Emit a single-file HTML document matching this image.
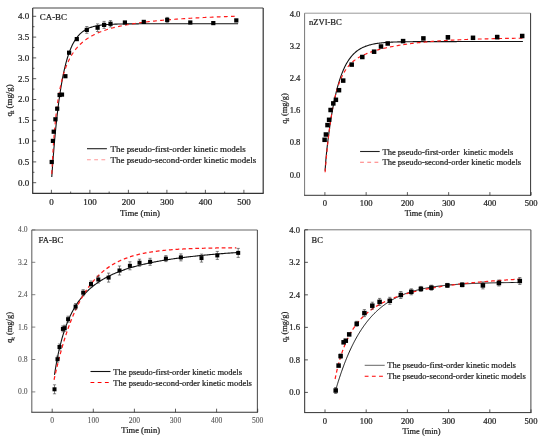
<!DOCTYPE html>
<html><head><meta charset="utf-8"><title>Adsorption kinetics</title>
<style>
html,body{margin:0;padding:0;background:#fff;}
svg{display:block;}
text{font-family:"Liberation Serif", "Times New Roman", serif;}
</style></head>
<body>
<svg width="550" height="442" viewBox="0 0 550 442">
<rect width="550" height="442" fill="#fff"/>
<g>
<polyline points="51.78,176.93 51.81,176.55 51.86,175.79 51.93,174.77 52.02,173.52 52.12,172.08 52.23,170.47 52.36,168.72 52.5,166.83 52.64,164.82 52.8,162.7 52.97,160.48 53.14,158.19 53.33,155.81 53.52,153.37 53.73,150.86 53.94,148.31 54.16,145.71 54.38,143.08 54.62,140.42 54.86,137.73 55.11,135.03 55.37,132.32 55.63,129.6 55.9,126.88 56.18,124.16 56.47,121.45 56.76,118.75 57.05,116.07 57.36,113.41 57.67,110.78 57.99,108.17 58.31,105.59 58.64,103.04 58.97,100.53 59.32,98.05 59.66,95.61 60.02,93.22 60.38,90.86 60.74,88.55 61.11,86.29 61.49,84.07 61.87,81.9 62.25,79.78 62.65,77.71 63.04,75.69 63.45,73.72 63.85,71.8 64.27,69.93 64.69,68.11 65.11,66.34 65.54,64.62 65.97,62.95 66.41,61.33 66.86,59.76 67.31,58.24 67.76,56.77 68.22,55.35 68.68,53.97 69.15,52.65 69.62,51.36 70.1,50.12 70.59,48.93 71.07,47.78 71.57,46.67 72.06,45.6 72.56,44.58 73.07,43.59 73.58,42.64 74.1,41.73 74.61,40.86 75.14,40.02 75.67,39.22 76.2,38.45 76.74,37.71 77.28,37 77.83,36.33 78.38,35.68 78.93,35.06 79.49,34.47 80.05,33.91 80.62,33.37 81.19,32.86 81.77,32.37 82.35,31.91 82.93,31.46 83.52,31.04 84.11,30.64 84.71,30.26 85.31,29.9 85.92,29.55 86.52,29.22 87.14,28.91 87.75,28.62 88.37,28.34 89,28.07 89.63,27.82 90.26,27.58 90.9,27.36 91.54,27.14 92.18,26.94 92.83,26.75 93.48,26.57 94.14,26.4 94.8,26.24 95.46,26.09 96.13,25.95 96.8,25.81 97.48,25.69 98.15,25.57 98.84,25.45 99.52,25.35 100.21,25.25 100.91,25.15 101.6,25.06 102.31,24.98 103.01,24.9 103.72,24.83 104.43,24.76 105.15,24.7 105.87,24.64 106.59,24.58 107.31,24.52 108.04,24.48 108.78,24.43 109.52,24.38 110.26,24.34 111,24.31 111.75,24.27 112.5,24.24 113.25,24.2 114.01,24.18 114.77,24.15 115.54,24.12 116.31,24.1 117.08,24.08 117.86,24.06 118.64,24.04 119.42,24.02 120.2,24 120.99,23.99 121.79,23.97 122.58,23.96 123.38,23.95 124.18,23.93 124.99,23.92 125.8,23.91 126.61,23.9 127.43,23.89 128.25,23.89 129.07,23.88 129.9,23.87 130.73,23.87 131.56,23.86 132.39,23.85 133.23,23.85 134.08,23.84 134.92,23.84 135.77,23.84 136.62,23.83 137.48,23.83 138.34,23.83 139.2,23.82 140.06,23.82 140.93,23.82 141.8,23.81 142.68,23.81 143.55,23.81 144.43,23.81 145.32,23.81 146.21,23.81 147.1,23.8 147.99,23.8 148.89,23.8 149.79,23.8 150.69,23.8 151.59,23.8 152.5,23.8 153.41,23.8 154.33,23.8 155.25,23.8 156.17,23.79 157.09,23.79 158.02,23.79 158.95,23.79 159.88,23.79 160.82,23.79 161.76,23.79 162.7,23.79 163.65,23.79 164.6,23.79 165.55,23.79 166.5,23.79 167.46,23.79 168.42,23.79 169.38,23.79 170.35,23.79 171.32,23.79 172.29,23.79 173.27,23.79 174.25,23.79 175.23,23.79 176.21,23.79 177.2,23.79 178.19,23.79 179.18,23.79 180.18,23.79 181.18,23.79 182.18,23.79 183.18,23.79 184.19,23.79 185.2,23.79 186.21,23.79 187.23,23.79 188.25,23.79 189.27,23.79 190.29,23.79 191.32,23.79 192.35,23.79 193.38,23.79 194.42,23.79 195.46,23.79 196.5,23.79 197.54,23.79 198.59,23.79 199.64,23.79 200.69,23.79 201.75,23.79 202.81,23.79 203.87,23.79 204.93,23.79 206,23.79 207.07,23.79 208.14,23.79 209.22,23.79 210.3,23.79 211.38,23.79 212.46,23.79 213.55,23.79 214.63,23.79 215.73,23.79 216.82,23.79 217.92,23.79 219.02,23.79 220.12,23.79 221.22,23.79 222.33,23.79 223.44,23.79 224.56,23.79 225.67,23.79 226.79,23.79 227.91,23.79 229.04,23.79 230.16,23.79 231.29,23.79 232.42,23.79 233.56,23.79 234.7,23.79 235.84,23.79 236.98,23.79 238.12,23.79" fill="none" stroke="#111" stroke-width="1.1" stroke-linejoin="round"/>
<polyline points="51.78,173.92 51.81,173.38 51.86,172.27 51.93,170.79 52.02,169.02 52.12,167 52.23,164.79 52.36,162.41 52.49,159.9 52.64,157.29 52.8,154.59 52.96,151.84 53.14,149.04 53.33,146.21 53.52,143.37 53.72,140.53 53.93,137.7 54.15,134.89 54.38,132.1 54.61,129.35 54.85,126.63 55.1,123.96 55.36,121.34 55.62,118.76 55.89,116.24 56.17,113.78 56.46,111.36 56.75,109.01 57.04,106.71 57.35,104.47 57.66,102.29 57.97,100.17 58.3,98.1 58.63,96.08 58.96,94.13 59.3,92.22 59.65,90.37 60,88.58 60.36,86.83 60.72,85.13 61.09,83.48 61.47,81.88 61.85,80.33 62.23,78.81 62.62,77.35 63.02,75.92 63.42,74.54 63.83,73.19 64.24,71.89 64.66,70.62 65.08,69.38 65.51,68.19 65.94,67.02 66.38,65.89 66.83,64.79 67.27,63.72 67.73,62.68 68.19,61.67 68.65,60.69 69.12,59.73 69.59,58.8 70.07,57.9 70.55,57.01 71.03,56.16 71.52,55.32 72.02,54.51 72.52,53.72 73.03,52.95 73.54,52.2 74.05,51.47 74.57,50.75 75.09,50.06 75.62,49.38 76.15,48.72 76.69,48.08 77.23,47.45 77.77,46.84 78.32,46.24 78.87,45.66 79.43,45.09 79.99,44.53 80.56,43.99 81.13,43.46 81.71,42.95 82.28,42.44 82.87,41.95 83.45,41.47 84.05,41 84.64,40.54 85.24,40.09 85.84,39.65 86.45,39.22 87.06,38.79 87.68,38.38 88.3,37.98 88.92,37.59 89.55,37.2 90.18,36.82 90.82,36.45 91.46,36.09 92.1,35.74 92.75,35.39 93.4,35.05 94.05,34.72 94.71,34.39 95.37,34.08 96.04,33.76 96.71,33.46 97.38,33.16 98.06,32.86 98.74,32.57 99.42,32.29 100.11,32.01 100.81,31.74 101.5,31.47 102.2,31.21 102.9,30.95 103.61,30.7 104.32,30.45 105.04,30.21 105.75,29.97 106.47,29.73 107.2,29.5 107.93,29.28 108.66,29.06 109.4,28.84 110.14,28.62 110.88,28.41 111.62,28.21 112.37,28 113.13,27.8 113.88,27.61 114.64,27.41 115.41,27.22 116.17,27.04 116.95,26.86 117.72,26.67 118.5,26.5 119.28,26.32 120.06,26.15 120.85,25.98 121.64,25.82 122.43,25.65 123.23,25.49 124.03,25.33 124.84,25.18 125.65,25.03 126.46,24.87 127.27,24.73 128.09,24.58 128.91,24.44 129.73,24.29 130.56,24.15 131.39,24.02 132.23,23.88 133.06,23.75 133.91,23.62 134.75,23.49 135.6,23.36 136.45,23.23 137.3,23.11 138.16,22.99 139.02,22.87 139.88,22.75 140.75,22.63 141.62,22.52 142.49,22.4 143.36,22.29 144.24,22.18 145.13,22.07 146.01,21.97 146.9,21.86 147.79,21.76 148.69,21.65 149.58,21.55 150.48,21.45 151.39,21.35 152.29,21.25 153.2,21.16 154.12,21.06 155.03,20.97 155.95,20.88 156.88,20.79 157.8,20.7 158.73,20.61 159.66,20.52 160.6,20.43 161.53,20.35 162.47,20.26 163.42,20.18 164.36,20.1 165.31,20.02 166.27,19.93 167.22,19.86 168.18,19.78 169.14,19.7 170.11,19.62 171.07,19.55 172.04,19.47 173.02,19.4 173.99,19.33 174.97,19.26 175.95,19.18 176.94,19.11 177.93,19.04 178.92,18.98 179.91,18.91 180.91,18.84 181.91,18.78 182.91,18.71 183.91,18.65 184.92,18.58 185.93,18.52 186.95,18.46 187.96,18.39 188.98,18.33 190.01,18.27 191.03,18.21 192.06,18.15 193.09,18.1 194.12,18.04 195.16,17.98 196.2,17.92 197.24,17.87 198.29,17.81 199.34,17.76 200.39,17.7 201.44,17.65 202.5,17.6 203.56,17.55 204.62,17.49 205.68,17.44 206.75,17.39 207.82,17.34 208.89,17.29 209.97,17.24 211.05,17.2 212.13,17.15 213.21,17.1 214.3,17.05 215.39,17.01 216.48,16.96 217.57,16.91 218.67,16.87 219.77,16.82 220.87,16.78 221.98,16.74 223.09,16.69 224.2,16.65 225.31,16.61 226.43,16.56 227.55,16.52 228.67,16.48 229.79,16.44 230.92,16.4 232.05,16.36 233.18,16.32 234.32,16.28 235.46,16.24 236.6,16.2 237.74,16.17" fill="none" stroke="#ff1a1a" stroke-width="1.15" stroke-dasharray="3.8,3.3" stroke-linejoin="round"/>
<rect x="49.6" y="159.9" width="4.2" height="4.2" fill="#000"/>
<rect x="50.8" y="138.8" width="4.2" height="4.2" fill="#000"/>
<rect x="51.6" y="129.6" width="4.2" height="4.2" fill="#000"/>
<rect x="53.3" y="117.2" width="4.2" height="4.2" fill="#000"/>
<rect x="55.1" y="106.6" width="4.2" height="4.2" fill="#000"/>
<rect x="57.5" y="92.9" width="4.2" height="4.2" fill="#000"/>
<rect x="59.9" y="92.5" width="4.2" height="4.2" fill="#000"/>
<rect x="63.3" y="74.1" width="4.2" height="4.2" fill="#000"/>
<rect x="67" y="50.6" width="4.2" height="4.2" fill="#000"/>
<rect x="74.7" y="37" width="4.2" height="4.2" fill="#000"/>
<path d="M86.8,26.5V33.3M85.2,26.5H88.4M85.2,33.3H88.4" stroke="#333" stroke-width="0.6" fill="none"/>
<rect x="84.7" y="27.8" width="4.2" height="4.2" fill="#000"/>
<path d="M97.6,23.9V31.5M96,23.9H99.2M96,31.5H99.2" stroke="#333" stroke-width="0.6" fill="none"/>
<rect x="95.5" y="25.6" width="4.2" height="4.2" fill="#000"/>
<path d="M104.1,21.4V28.4M102.5,21.4H105.7M102.5,28.4H105.7" stroke="#333" stroke-width="0.6" fill="none"/>
<rect x="102" y="22.8" width="4.2" height="4.2" fill="#000"/>
<path d="M110.5,20.6V27M108.9,20.6H112.1M108.9,27H112.1" stroke="#333" stroke-width="0.6" fill="none"/>
<rect x="108.4" y="21.7" width="4.2" height="4.2" fill="#000"/>
<rect x="122.8" y="20.4" width="4.2" height="4.2" fill="#000"/>
<rect x="141.7" y="19.8" width="4.2" height="4.2" fill="#000"/>
<path d="M167.2,17.4V22.4M165.6,17.4H168.8M165.6,22.4H168.8" stroke="#333" stroke-width="0.6" fill="none"/>
<rect x="165.1" y="17.8" width="4.2" height="4.2" fill="#000"/>
<rect x="188.2" y="20.4" width="4.2" height="4.2" fill="#000"/>
<rect x="211.2" y="21" width="4.2" height="4.2" fill="#000"/>
<rect x="234.2" y="18.3" width="4.2" height="4.2" fill="#000"/>
<line x1="32.7" y1="8" x2="263.2" y2="8" stroke="#444" stroke-width="1.2"/>
<line x1="263.2" y1="8" x2="263.2" y2="193.3" stroke="#333" stroke-width="1.2"/>
<line x1="32.7" y1="8" x2="32.7" y2="193.3" stroke="#333" stroke-width="1.2"/>
<line x1="32.2" y1="193.3" x2="263.7" y2="193.3" stroke="#333" stroke-width="1.2"/>
<line x1="51.4" y1="193.3" x2="51.4" y2="189.8" stroke="#333" stroke-width="0.8"/>
<text x="51.4" y="204.5" font-size="9" text-anchor="middle" fill="#222" stroke="#222" stroke-width="0.22" >0</text>
<line x1="89.9" y1="193.3" x2="89.9" y2="189.8" stroke="#333" stroke-width="0.8"/>
<text x="89.9" y="204.5" font-size="9" text-anchor="middle" fill="#222" stroke="#222" stroke-width="0.22" >100</text>
<line x1="128.4" y1="193.3" x2="128.4" y2="189.8" stroke="#333" stroke-width="0.8"/>
<text x="128.4" y="204.5" font-size="9" text-anchor="middle" fill="#222" stroke="#222" stroke-width="0.22" >200</text>
<line x1="166.9" y1="193.3" x2="166.9" y2="189.8" stroke="#333" stroke-width="0.8"/>
<text x="166.9" y="204.5" font-size="9" text-anchor="middle" fill="#222" stroke="#222" stroke-width="0.22" >300</text>
<line x1="205.4" y1="193.3" x2="205.4" y2="189.8" stroke="#333" stroke-width="0.8"/>
<text x="205.4" y="204.5" font-size="9" text-anchor="middle" fill="#222" stroke="#222" stroke-width="0.22" >400</text>
<line x1="243.9" y1="193.3" x2="243.9" y2="189.8" stroke="#333" stroke-width="0.8"/>
<text x="243.9" y="204.5" font-size="9" text-anchor="middle" fill="#222" stroke="#222" stroke-width="0.22" >500</text>
<line x1="70.65" y1="193.3" x2="70.65" y2="191.55" stroke="#333" stroke-width="0.8"/>
<line x1="109.15" y1="193.3" x2="109.15" y2="191.55" stroke="#333" stroke-width="0.8"/>
<line x1="147.65" y1="193.3" x2="147.65" y2="191.55" stroke="#333" stroke-width="0.8"/>
<line x1="186.15" y1="193.3" x2="186.15" y2="191.55" stroke="#333" stroke-width="0.8"/>
<line x1="224.65" y1="193.3" x2="224.65" y2="191.55" stroke="#333" stroke-width="0.8"/>
<line x1="32.7" y1="182.7" x2="36.2" y2="182.7" stroke="#333" stroke-width="0.8"/>
<text x="29.2" y="185.67" font-size="9" text-anchor="end" fill="#222" stroke="#222" stroke-width="0.22" >0.0</text>
<line x1="32.7" y1="161.9" x2="36.2" y2="161.9" stroke="#333" stroke-width="0.8"/>
<text x="29.2" y="164.87" font-size="9" text-anchor="end" fill="#222" stroke="#222" stroke-width="0.22" >0.5</text>
<line x1="32.7" y1="141.1" x2="36.2" y2="141.1" stroke="#333" stroke-width="0.8"/>
<text x="29.2" y="144.07" font-size="9" text-anchor="end" fill="#222" stroke="#222" stroke-width="0.22" >1.0</text>
<line x1="32.7" y1="120.3" x2="36.2" y2="120.3" stroke="#333" stroke-width="0.8"/>
<text x="29.2" y="123.27" font-size="9" text-anchor="end" fill="#222" stroke="#222" stroke-width="0.22" >1.5</text>
<line x1="32.7" y1="99.5" x2="36.2" y2="99.5" stroke="#333" stroke-width="0.8"/>
<text x="29.2" y="102.47" font-size="9" text-anchor="end" fill="#222" stroke="#222" stroke-width="0.22" >2.0</text>
<line x1="32.7" y1="78.7" x2="36.2" y2="78.7" stroke="#333" stroke-width="0.8"/>
<text x="29.2" y="81.67" font-size="9" text-anchor="end" fill="#222" stroke="#222" stroke-width="0.22" >2.5</text>
<line x1="32.7" y1="57.9" x2="36.2" y2="57.9" stroke="#333" stroke-width="0.8"/>
<text x="29.2" y="60.87" font-size="9" text-anchor="end" fill="#222" stroke="#222" stroke-width="0.22" >3.0</text>
<line x1="32.7" y1="37.1" x2="36.2" y2="37.1" stroke="#333" stroke-width="0.8"/>
<text x="29.2" y="40.07" font-size="9" text-anchor="end" fill="#222" stroke="#222" stroke-width="0.22" >3.5</text>
<line x1="32.7" y1="16.3" x2="36.2" y2="16.3" stroke="#333" stroke-width="0.8"/>
<text x="29.2" y="19.27" font-size="9" text-anchor="end" fill="#222" stroke="#222" stroke-width="0.22" >4.0</text>
<line x1="32.7" y1="172.3" x2="34.45" y2="172.3" stroke="#333" stroke-width="0.8"/>
<line x1="32.7" y1="151.5" x2="34.45" y2="151.5" stroke="#333" stroke-width="0.8"/>
<line x1="32.7" y1="130.7" x2="34.45" y2="130.7" stroke="#333" stroke-width="0.8"/>
<line x1="32.7" y1="109.9" x2="34.45" y2="109.9" stroke="#333" stroke-width="0.8"/>
<line x1="32.7" y1="89.1" x2="34.45" y2="89.1" stroke="#333" stroke-width="0.8"/>
<line x1="32.7" y1="68.3" x2="34.45" y2="68.3" stroke="#333" stroke-width="0.8"/>
<line x1="32.7" y1="47.5" x2="34.45" y2="47.5" stroke="#333" stroke-width="0.8"/>
<line x1="32.7" y1="26.7" x2="34.45" y2="26.7" stroke="#333" stroke-width="0.8"/>
<text x="140" y="215.5" font-size="8.8" text-anchor="middle" fill="#222" stroke="#222" stroke-width="0.22" >Time (min)</text>
<text transform="translate(11.5,100.5) rotate(-90)" font-size="8.8" text-anchor="middle" fill="#222" stroke="#222" stroke-width="0.22">q<tspan font-size="5.72" dy="2.2">t</tspan><tspan dy="-2.2"> (mg/g)</tspan></text>
<text x="39.8" y="20.3" font-size="8.9" text-anchor="start" fill="#222" stroke="#222" stroke-width="0.22" >CA-BC</text>
<line x1="87" y1="148.7" x2="106.9" y2="148.7" stroke="#222" stroke-width="1.1"/>
<line x1="87" y1="159.8" x2="105.2" y2="159.8" stroke="#f99" stroke-width="1.1" stroke-dasharray="3.8,3.4"/>
<text x="110.5" y="152.01" font-size="8.95" text-anchor="start" fill="#222" stroke="#222" stroke-width="0.22" xml:space="preserve" style="white-space:pre">The pseudo-first-order kinetic models</text>
<text x="110.5" y="163.11" font-size="8.95" text-anchor="start" fill="#222" stroke="#222" stroke-width="0.22" >The pseudo-second-order kinetic models</text>
</g>
<g>
<polyline points="325.11,170.89 325.13,170.42 325.19,169.49 325.26,168.27 325.35,166.85 325.46,165.28 325.58,163.62 325.71,161.88 325.86,160.1 326.02,158.28 326.18,156.44 326.36,154.57 326.55,152.69 326.75,150.79 326.95,148.86 327.17,146.92 327.39,144.96 327.62,142.99 327.86,140.99 328.11,138.98 328.37,136.96 328.64,134.92 328.91,132.88 329.19,130.82 329.48,128.77 329.77,126.71 330.07,124.65 330.38,122.6 330.7,120.55 331.02,118.51 331.35,116.49 331.69,114.48 332.03,112.48 332.38,110.51 332.74,108.55 333.1,106.62 333.47,104.71 333.84,102.82 334.22,100.96 334.61,99.13 335,97.33 335.4,95.56 335.81,93.82 336.22,92.12 336.63,90.44 337.06,88.8 337.48,87.2 337.92,85.63 338.36,84.09 338.8,82.59 339.25,81.12 339.71,79.69 340.17,78.3 340.63,76.94 341.1,75.62 341.58,74.33 342.06,73.08 342.55,71.86 343.04,70.68 343.54,69.53 344.04,68.42 344.55,67.34 345.06,66.29 345.58,65.28 346.1,64.3 346.63,63.35 347.16,62.43 347.7,61.55 348.24,60.69 348.79,59.86 349.34,59.06 349.9,58.3 350.46,57.55 351.02,56.84 351.59,56.15 352.17,55.49 352.75,54.85 353.33,54.24 353.92,53.65 354.51,53.08 355.11,52.54 355.71,52.02 356.32,51.52 356.93,51.04 357.55,50.58 358.17,50.14 358.79,49.72 359.42,49.31 360.05,48.93 360.69,48.56 361.33,48.2 361.98,47.87 362.63,47.54 363.29,47.24 363.94,46.94 364.61,46.66 365.28,46.39 365.95,46.14 366.62,45.9 367.3,45.66 367.99,45.44 368.67,45.23 369.37,45.04 370.06,44.85 370.76,44.67 371.47,44.49 372.18,44.33 372.89,44.18 373.61,44.03 374.33,43.89 375.05,43.76 375.78,43.63 376.51,43.52 377.25,43.4 377.99,43.3 378.73,43.2 379.48,43.1 380.23,43.01 380.99,42.93 381.75,42.84 382.51,42.77 383.28,42.7 384.05,42.63 384.82,42.56 385.6,42.5 386.39,42.45 387.17,42.39 387.96,42.34 388.76,42.29 389.55,42.25 390.35,42.21 391.16,42.17 391.97,42.13 392.78,42.09 393.6,42.06 394.42,42.03 395.24,42 396.07,41.97 396.9,41.95 397.73,41.92 398.57,41.9 399.41,41.88 400.25,41.86 401.1,41.84 401.95,41.82 402.81,41.8 403.67,41.79 404.53,41.77 405.4,41.76 406.27,41.75 407.14,41.74 408.02,41.72 408.9,41.71 409.78,41.7 410.67,41.69 411.56,41.69 412.45,41.68 413.35,41.67 414.25,41.66 415.16,41.66 416.07,41.65 416.98,41.65 417.89,41.64 418.81,41.64 419.73,41.63 420.66,41.63 421.58,41.62 422.52,41.62 423.45,41.62 424.39,41.61 425.33,41.61 426.28,41.61 427.22,41.6 428.18,41.6 429.13,41.6 430.09,41.6 431.05,41.6 432.01,41.59 432.98,41.59 433.95,41.59 434.93,41.59 435.91,41.59 436.89,41.59 437.87,41.59 438.86,41.58 439.85,41.58 440.84,41.58 441.84,41.58 442.84,41.58 443.85,41.58 444.85,41.58 445.86,41.58 446.88,41.58 447.89,41.58 448.91,41.58 449.93,41.58 450.96,41.58 451.99,41.58 453.02,41.58 454.06,41.58 455.09,41.58 456.14,41.58 457.18,41.57 458.23,41.57 459.28,41.57 460.33,41.57 461.39,41.57 462.45,41.57 463.51,41.57 464.58,41.57 465.65,41.57 466.72,41.57 467.8,41.57 468.87,41.57 469.96,41.57 471.04,41.57 472.13,41.57 473.22,41.57 474.31,41.57 475.41,41.57 476.51,41.57 477.61,41.57 478.72,41.57 479.83,41.57 480.94,41.57 482.05,41.57 483.17,41.57 484.29,41.57 485.41,41.57 486.54,41.57 487.67,41.57 488.8,41.57 489.94,41.57 491.07,41.57 492.22,41.57 493.36,41.57 494.51,41.57 495.66,41.57 496.81,41.57 497.97,41.57 499.12,41.57 500.29,41.57 501.45,41.57 502.62,41.57 503.79,41.57 504.96,41.57 506.14,41.57 507.32,41.57 508.5,41.57 509.68,41.57 510.87,41.57 512.06,41.57 513.25,41.57 514.45,41.57 515.65,41.57 516.85,41.57 518.05,41.57 519.26,41.57 520.47,41.57 521.68,41.57 522.9,41.57" fill="none" stroke="#111" stroke-width="1.1" stroke-linejoin="round"/>
<polyline points="325.11,172.19 325.13,171.85 325.19,171.16 325.26,170.24 325.35,169.11 325.46,167.82 325.58,166.39 325.71,164.82 325.86,163.14 326.02,161.36 326.18,159.49 326.36,157.54 326.55,155.53 326.75,153.46 326.95,151.34 327.17,149.18 327.39,146.98 327.62,144.76 327.86,142.52 328.11,140.27 328.37,138.01 328.64,135.75 328.91,133.49 329.19,131.24 329.48,129.01 329.77,126.79 330.07,124.59 330.38,122.41 330.7,120.26 331.02,118.14 331.35,116.05 331.69,114 332.03,111.98 332.38,110 332.74,108.06 333.1,106.16 333.47,104.3 333.84,102.48 334.22,100.71 334.61,98.98 335,97.3 335.4,95.66 335.81,94.06 336.22,92.51 336.63,91 337.06,89.54 337.48,88.12 337.92,86.74 338.36,85.41 338.8,84.12 339.25,82.86 339.71,81.65 340.17,80.48 340.63,79.35 341.1,78.26 341.58,77.2 342.06,76.18 342.55,75.19 343.04,74.24 343.54,73.32 344.04,72.43 344.55,71.58 345.06,70.75 345.58,69.95 346.1,69.18 346.63,68.44 347.16,67.72 347.7,67.03 348.24,66.36 348.79,65.72 349.34,65.09 349.9,64.49 350.46,63.91 351.02,63.35 351.59,62.81 352.17,62.28 352.75,61.77 353.33,61.28 353.92,60.8 354.51,60.34 355.11,59.89 355.71,59.46 356.32,59.04 356.93,58.63 357.55,58.23 358.17,57.85 358.79,57.47 359.42,57.11 360.05,56.75 360.69,56.41 361.33,56.07 361.98,55.74 362.63,55.42 363.29,55.11 363.94,54.81 364.61,54.51 365.28,54.22 365.95,53.93 366.62,53.65 367.3,53.38 367.99,53.11 368.67,52.85 369.37,52.59 370.06,52.34 370.76,52.1 371.47,51.85 372.18,51.62 372.89,51.38 373.61,51.15 374.33,50.93 375.05,50.71 375.78,50.49 376.51,50.27 377.25,50.06 377.99,49.86 378.73,49.65 379.48,49.45 380.23,49.25 380.99,49.06 381.75,48.87 382.51,48.68 383.28,48.49 384.05,48.31 384.82,48.13 385.6,47.95 386.39,47.77 387.17,47.6 387.96,47.43 388.76,47.26 389.55,47.09 390.35,46.93 391.16,46.77 391.97,46.61 392.78,46.45 393.6,46.3 394.42,46.15 395.24,46 396.07,45.85 396.9,45.7 397.73,45.56 398.57,45.42 399.41,45.28 400.25,45.14 401.1,45 401.95,44.87 402.81,44.74 403.67,44.61 404.53,44.48 405.4,44.36 406.27,44.23 407.14,44.11 408.02,43.99 408.9,43.87 409.78,43.75 410.67,43.64 411.56,43.53 412.45,43.41 413.35,43.3 414.25,43.2 415.16,43.09 416.07,42.99 416.98,42.88 417.89,42.78 418.81,42.68 419.73,42.58 420.66,42.49 421.58,42.39 422.52,42.3 423.45,42.21 424.39,42.12 425.33,42.03 426.28,41.94 427.22,41.85 428.18,41.77 429.13,41.68 430.09,41.6 431.05,41.52 432.01,41.44 432.98,41.37 433.95,41.29 434.93,41.21 435.91,41.14 436.89,41.07 437.87,41 438.86,40.93 439.85,40.86 440.84,40.79 441.84,40.72 442.84,40.66 443.85,40.6 444.85,40.53 445.86,40.47 446.88,40.41 447.89,40.35 448.91,40.29 449.93,40.24 450.96,40.18 451.99,40.13 453.02,40.07 454.06,40.02 455.09,39.97 456.14,39.92 457.18,39.87 458.23,39.82 459.28,39.77 460.33,39.72 461.39,39.68 462.45,39.63 463.51,39.59 464.58,39.54 465.65,39.5 466.72,39.46 467.8,39.42 468.87,39.38 469.96,39.34 471.04,39.3 472.13,39.26 473.22,39.22 474.31,39.19 475.41,39.15 476.51,39.12 477.61,39.08 478.72,39.05 479.83,39.02 480.94,38.98 482.05,38.95 483.17,38.92 484.29,38.89 485.41,38.86 486.54,38.83 487.67,38.81 488.8,38.78 489.94,38.75 491.07,38.73 492.22,38.7 493.36,38.67 494.51,38.65 495.66,38.63 496.81,38.6 497.97,38.58 499.12,38.56 500.29,38.53 501.45,38.51 502.62,38.49 503.79,38.47 504.96,38.45 506.14,38.43 507.32,38.41 508.5,38.39 509.68,38.37 510.87,38.36 512.06,38.34 513.25,38.32 514.45,38.3 515.65,38.29 516.85,38.27 518.05,38.26 519.26,38.24 520.47,38.23 521.68,38.21 522.9,38.2" fill="none" stroke="#ff1a1a" stroke-width="1.15" stroke-dasharray="3.8,3" stroke-linejoin="round"/>
<rect x="322.35" y="137.55" width="4.5" height="4.5" fill="#000"/>
<rect x="323.65" y="132.25" width="4.5" height="4.5" fill="#000"/>
<rect x="325.25" y="122.85" width="4.5" height="4.5" fill="#000"/>
<rect x="326.85" y="117.55" width="4.5" height="4.5" fill="#000"/>
<rect x="328.35" y="107.75" width="4.5" height="4.5" fill="#000"/>
<rect x="331.05" y="101.15" width="4.5" height="4.5" fill="#000"/>
<rect x="333.65" y="97.55" width="4.5" height="4.5" fill="#000"/>
<rect x="336.75" y="87.95" width="4.5" height="4.5" fill="#000"/>
<rect x="340.95" y="78.35" width="4.5" height="4.5" fill="#000"/>
<rect x="349.45" y="62.35" width="4.5" height="4.5" fill="#000"/>
<rect x="360.05" y="54.75" width="4.5" height="4.5" fill="#000"/>
<rect x="371.85" y="49.45" width="4.5" height="4.5" fill="#000"/>
<rect x="378.75" y="44.25" width="4.5" height="4.5" fill="#000"/>
<rect x="385.45" y="41.25" width="4.5" height="4.5" fill="#000"/>
<rect x="400.85" y="38.85" width="4.5" height="4.5" fill="#000"/>
<rect x="421.15" y="36.15" width="4.5" height="4.5" fill="#000"/>
<path d="M447.9,35.5V39.1M446.3,35.5H449.5M446.3,39.1H449.5" stroke="#333" stroke-width="0.6" fill="none"/>
<rect x="445.65" y="35.05" width="4.5" height="4.5" fill="#000"/>
<rect x="470.75" y="35.55" width="4.5" height="4.5" fill="#000"/>
<path d="M497.2,35.3V38.9M495.6,35.3H498.8M495.6,38.9H498.8" stroke="#333" stroke-width="0.6" fill="none"/>
<rect x="494.95" y="34.85" width="4.5" height="4.5" fill="#000"/>
<rect x="519.95" y="33.75" width="4.5" height="4.5" fill="#000"/>
<line x1="304.6" y1="13.2" x2="530.6" y2="13.2" stroke="#999" stroke-width="1.0"/>
<line x1="530.6" y1="13.2" x2="530.6" y2="195.3" stroke="#333" stroke-width="1.0"/>
<line x1="304.6" y1="13.2" x2="304.6" y2="195.3" stroke="#777" stroke-width="1.0"/>
<line x1="304.1" y1="195.3" x2="531.1" y2="195.3" stroke="#333" stroke-width="1.0"/>
<line x1="324.9" y1="195.3" x2="324.9" y2="192.1" stroke="#333" stroke-width="0.8"/>
<text x="324.9" y="205.7" font-size="8.6" text-anchor="middle" fill="#222" stroke="#222" stroke-width="0.22" >0</text>
<line x1="366.15" y1="195.3" x2="366.15" y2="192.1" stroke="#333" stroke-width="0.8"/>
<text x="366.15" y="205.7" font-size="8.6" text-anchor="middle" fill="#222" stroke="#222" stroke-width="0.22" >100</text>
<line x1="407.4" y1="195.3" x2="407.4" y2="192.1" stroke="#333" stroke-width="0.8"/>
<text x="407.4" y="205.7" font-size="8.6" text-anchor="middle" fill="#222" stroke="#222" stroke-width="0.22" >200</text>
<line x1="448.65" y1="195.3" x2="448.65" y2="192.1" stroke="#333" stroke-width="0.8"/>
<text x="448.65" y="205.7" font-size="8.6" text-anchor="middle" fill="#222" stroke="#222" stroke-width="0.22" >300</text>
<line x1="489.9" y1="195.3" x2="489.9" y2="192.1" stroke="#333" stroke-width="0.8"/>
<text x="489.9" y="205.7" font-size="8.6" text-anchor="middle" fill="#222" stroke="#222" stroke-width="0.22" >400</text>
<line x1="531.15" y1="195.3" x2="531.15" y2="192.1" stroke="#333" stroke-width="0.8"/>
<text x="531.15" y="205.7" font-size="8.6" text-anchor="middle" fill="#222" stroke="#222" stroke-width="0.22" >500</text>
<text x="300.4" y="177.64" font-size="8.6" text-anchor="end" fill="#222" stroke="#222" stroke-width="0.22" >0.0</text>
<text x="300.4" y="145.44" font-size="8.6" text-anchor="end" fill="#222" stroke="#222" stroke-width="0.22" >0.8</text>
<text x="300.4" y="113.24" font-size="8.6" text-anchor="end" fill="#222" stroke="#222" stroke-width="0.22" >1.6</text>
<text x="300.4" y="81.04" font-size="8.6" text-anchor="end" fill="#222" stroke="#222" stroke-width="0.22" >2.4</text>
<text x="300.4" y="48.84" font-size="8.6" text-anchor="end" fill="#222" stroke="#222" stroke-width="0.22" >3.2</text>
<text x="300.4" y="16.64" font-size="8.6" text-anchor="end" fill="#222" stroke="#222" stroke-width="0.22" >4.0</text>
<text x="423.7" y="215.9" font-size="8.4" text-anchor="middle" fill="#222" stroke="#222" stroke-width="0.22" >Time (min)</text>
<text transform="translate(287,108.5) rotate(-90)" font-size="8.4" text-anchor="middle" fill="#222" stroke="#222" stroke-width="0.22">q<tspan font-size="5.46" dy="2.1">t</tspan><tspan dy="-2.1"> (mg/g)</tspan></text>
<text x="308.9" y="24.9" font-size="8.6" text-anchor="start" fill="#222" stroke="#222" stroke-width="0.22" >nZVI-BC</text>
<line x1="360.1" y1="151.5" x2="379.7" y2="151.5" stroke="#222" stroke-width="1.1"/>
<line x1="360.1" y1="162.3" x2="378.3" y2="162.3" stroke="#f77" stroke-width="1.1" stroke-dasharray="3.8,3.4"/>
<text x="382.5" y="154.65" font-size="8.5" text-anchor="start" fill="#222" stroke="#222" stroke-width="0.22" xml:space="preserve" style="white-space:pre">The pseudo-first-order  kinetic models</text>
<text x="382.5" y="165.45" font-size="8.5" text-anchor="start" fill="#222" stroke="#222" stroke-width="0.22" >The pseudo-second-order kinetic models</text>
</g>
<g>
<polyline points="54.5,374.78 54.53,374.62 54.58,374.29 54.65,373.83 54.73,373.28 54.83,372.65 54.94,371.94 55.06,371.17 55.2,370.34 55.34,369.45 55.5,368.52 55.66,367.54 55.83,366.52 56.02,365.47 56.21,364.39 56.4,363.28 56.61,362.14 56.83,360.99 57.05,359.81 57.28,358.62 57.52,357.41 57.76,356.19 58.01,354.97 58.27,353.73 58.54,352.49 58.81,351.25 59.09,350 59.38,348.75 59.67,347.51 59.97,346.26 60.27,345.02 60.58,343.78 60.9,342.55 61.22,341.32 61.55,340.1 61.88,338.89 62.22,337.69 62.57,336.49 62.92,335.31 63.28,334.13 63.64,332.97 64.01,331.81 64.38,330.67 64.76,329.54 65.15,328.43 65.54,327.32 65.93,326.23 66.33,325.15 66.74,324.08 67.15,323.03 67.56,321.99 67.98,320.96 68.41,319.95 68.84,318.95 69.28,317.96 69.72,316.99 70.16,316.02 70.61,315.08 71.06,314.14 71.52,313.22 71.99,312.32 72.46,311.42 72.93,310.54 73.41,309.67 73.89,308.82 74.38,307.97 74.87,307.14 75.36,306.32 75.87,305.52 76.37,304.72 76.88,303.94 77.39,303.17 77.91,302.41 78.43,301.67 78.96,300.93 79.49,300.21 80.03,299.49 80.57,298.79 81.11,298.1 81.66,297.42 82.21,296.75 82.77,296.09 83.33,295.44 83.89,294.8 84.46,294.17 85.03,293.54 85.61,292.93 86.19,292.33 86.77,291.74 87.36,291.15 87.96,290.58 88.55,290.01 89.15,289.46 89.76,288.91 90.37,288.37 90.98,287.83 91.59,287.31 92.21,286.79 92.84,286.28 93.47,285.78 94.1,285.29 94.73,284.8 95.37,284.32 96.02,283.85 96.66,283.39 97.31,282.93 97.97,282.48 98.63,282.03 99.29,281.6 99.95,281.16 100.62,280.74 101.29,280.32 101.97,279.91 102.65,279.5 103.33,279.1 104.02,278.7 104.71,278.31 105.41,277.93 106.1,277.55 106.81,277.18 107.51,276.81 108.22,276.44 108.93,276.09 109.65,275.73 110.37,275.39 111.09,275.04 111.81,274.7 112.54,274.37 113.28,274.04 114.01,273.72 114.75,273.4 115.5,273.08 116.24,272.77 116.99,272.46 117.75,272.16 118.5,271.86 119.26,271.57 120.03,271.27 120.79,270.99 121.56,270.7 122.34,270.42 123.12,270.15 123.9,269.88 124.68,269.61 125.47,269.34 126.26,269.08 127.05,268.82 127.85,268.57 128.65,268.32 129.45,268.07 130.26,267.82 131.07,267.58 131.88,267.34 132.69,267.1 133.51,266.87 134.34,266.64 135.16,266.41 135.99,266.19 136.82,265.97 137.66,265.75 138.5,265.53 139.34,265.32 140.18,265.1 141.03,264.9 141.88,264.69 142.73,264.49 143.59,264.29 144.45,264.09 145.32,263.89 146.18,263.7 147.05,263.5 147.92,263.31 148.8,263.13 149.68,262.94 150.56,262.76 151.45,262.58 152.33,262.4 153.22,262.22 154.12,262.05 155.01,261.88 155.91,261.71 156.82,261.54 157.72,261.37 158.63,261.2 159.54,261.04 160.46,260.88 161.38,260.72 162.3,260.56 163.22,260.41 164.15,260.25 165.08,260.1 166.01,259.95 166.95,259.8 167.89,259.65 168.83,259.51 169.77,259.36 170.72,259.22 171.67,259.08 172.62,258.94 173.58,258.8 174.54,258.66 175.5,258.53 176.46,258.4 177.43,258.26 178.4,258.13 179.37,258 180.35,257.87 181.33,257.75 182.31,257.62 183.29,257.5 184.28,257.37 185.27,257.25 186.27,257.13 187.26,257.01 188.26,256.89 189.26,256.78 190.27,256.66 191.27,256.55 192.28,256.43 193.3,256.32 194.31,256.21 195.33,256.1 196.35,255.99 197.37,255.88 198.4,255.77 199.43,255.67 200.46,255.56 201.5,255.46 202.53,255.36 203.57,255.25 204.62,255.15 205.66,255.05 206.71,254.95 207.76,254.86 208.82,254.76 209.87,254.66 210.93,254.57 211.99,254.47 213.06,254.38 214.12,254.29 215.19,254.2 216.27,254.1 217.34,254.01 218.42,253.93 219.5,253.84 220.58,253.75 221.67,253.66 222.76,253.58 223.85,253.49 224.94,253.41 226.04,253.32 227.14,253.24 228.24,253.16 229.35,253.08 230.45,253 231.56,252.92 232.67,252.84 233.79,252.76 234.91,252.68 236.03,252.6 237.15,252.53" fill="none" stroke="#111" stroke-width="1.1" stroke-linejoin="round"/>
<polyline points="54.05,379.79 54.07,379.68 54.13,379.44 54.19,379.13 54.28,378.74 54.38,378.29 54.49,377.78 54.61,377.23 54.74,376.62 54.89,375.98 55.04,375.29 55.21,374.56 55.38,373.79 55.56,373 55.75,372.17 55.95,371.3 56.16,370.41 56.37,369.5 56.59,368.55 56.82,367.59 57.06,366.6 57.3,365.58 57.55,364.55 57.81,363.5 58.08,362.43 58.35,361.35 58.63,360.24 58.91,359.13 59.2,358 59.5,356.85 59.81,355.7 60.12,354.53 60.43,353.36 60.75,352.17 61.08,350.98 61.42,349.78 61.76,348.58 62.1,347.36 62.45,346.15 62.81,344.93 63.17,343.7 63.54,342.48 63.91,341.25 64.29,340.02 64.67,338.78 65.06,337.55 65.46,336.32 65.86,335.09 66.26,333.86 66.67,332.64 67.09,331.41 67.5,330.19 67.93,328.98 68.36,327.76 68.79,326.55 69.23,325.35 69.68,324.15 70.13,322.96 70.58,321.78 71.04,320.6 71.5,319.42 71.97,318.26 72.44,317.1 72.92,315.95 73.4,314.81 73.88,313.68 74.38,312.55 74.87,311.44 75.37,310.34 75.87,309.24 76.38,308.15 76.89,307.08 77.41,306.01 77.93,304.96 78.46,303.91 78.99,302.88 79.52,301.85 80.06,300.84 80.6,299.84 81.15,298.85 81.7,297.87 82.26,296.91 82.82,295.95 83.38,295.01 83.95,294.08 84.52,293.16 85.09,292.25 85.67,291.35 86.26,290.47 86.84,289.6 87.44,288.74 88.03,287.89 88.63,287.05 89.23,286.23 89.84,285.42 90.45,284.62 91.07,283.83 91.69,283.05 92.31,282.29 92.94,281.53 93.57,280.79 94.2,280.07 94.84,279.35 95.48,278.64 96.13,277.95 96.77,277.27 97.43,276.6 98.08,275.94 98.74,275.29 99.41,274.66 100.08,274.03 100.75,273.42 101.42,272.81 102.1,272.22 102.78,271.64 103.47,271.07 104.16,270.51 104.85,269.96 105.55,269.42 106.25,268.89 106.95,268.37 107.66,267.87 108.37,267.37 109.08,266.88 109.8,266.4 110.52,265.93 111.25,265.47 111.97,265.02 112.71,264.58 113.44,264.15 114.18,263.73 114.92,263.31 115.67,262.91 116.41,262.51 117.17,262.12 117.92,261.74 118.68,261.37 119.44,261.01 120.21,260.65 120.98,260.3 121.75,259.96 122.52,259.63 123.3,259.31 124.08,258.99 124.87,258.68 125.66,258.38 126.45,258.08 127.25,257.79 128.04,257.51 128.85,257.24 129.65,256.97 130.46,256.71 131.27,256.45 132.08,256.2 132.9,255.96 133.72,255.72 134.55,255.49 135.37,255.26 136.2,255.04 137.04,254.82 137.87,254.61 138.71,254.41 139.56,254.21 140.4,254.02 141.25,253.83 142.1,253.64 142.96,253.46 143.82,253.29 144.68,253.12 145.54,252.95 146.41,252.79 147.28,252.63 148.16,252.48 149.03,252.33 149.91,252.19 150.8,252.04 151.68,251.91 152.57,251.77 153.46,251.64 154.36,251.52 155.26,251.39 156.16,251.28 157.06,251.16 157.97,251.05 158.88,250.94 159.79,250.83 160.71,250.73 161.63,250.63 162.55,250.53 163.47,250.43 164.4,250.34 165.33,250.25 166.27,250.16 167.2,250.08 168.14,250 169.09,249.92 170.03,249.84 170.98,249.77 171.93,249.69 172.88,249.62 173.84,249.55 174.8,249.49 175.76,249.42 176.73,249.36 177.7,249.3 178.67,249.24 179.64,249.19 180.62,249.13 181.6,249.08 182.58,249.03 183.57,248.97 184.56,248.93 185.55,248.88 186.54,248.83 187.54,248.79 188.54,248.75 189.54,248.7 190.54,248.66 191.55,248.63 192.56,248.59 193.58,248.55 194.59,248.52 195.61,248.48 196.63,248.45 197.66,248.42 198.68,248.39 199.71,248.36 200.75,248.33 201.78,248.3 202.82,248.27 203.86,248.25 204.9,248.22 205.95,248.2 207,248.17 208.05,248.15 209.1,248.13 210.16,248.11 211.22,248.09 212.28,248.07 213.35,248.05 214.42,248.03 215.49,248.01 216.56,247.99 217.64,247.98 218.71,247.96 219.8,247.95 220.88,247.93 221.97,247.92 223.05,247.9 224.15,247.89 225.24,247.88 226.34,247.86 227.44,247.85 228.54,247.84 229.64,247.83 230.75,247.82 231.86,247.81 232.97,247.8 234.09,247.79 235.21,247.78 236.33,247.77" fill="none" stroke="#ff1a1a" stroke-width="1.25" stroke-dasharray="3.8,2.8" stroke-linejoin="round"/>
<path d="M54.5,384.8V393.8M52.9,384.8H56.1M52.9,393.8H56.1" stroke="#333" stroke-width="0.6" fill="none"/>
<rect x="52.5" y="387.3" width="4" height="4" fill="#000"/>
<path d="M57.5,356.2V362.2M55.9,356.2H59.1M55.9,362.2H59.1" stroke="#333" stroke-width="0.6" fill="none"/>
<rect x="55.5" y="357.2" width="4" height="4" fill="#000"/>
<path d="M59.5,344V350M57.9,344H61.1M57.9,350H61.1" stroke="#333" stroke-width="0.6" fill="none"/>
<rect x="57.5" y="345" width="4" height="4" fill="#000"/>
<path d="M62.9,325.9V331.9M61.3,325.9H64.5M61.3,331.9H64.5" stroke="#333" stroke-width="0.6" fill="none"/>
<rect x="60.9" y="326.9" width="4" height="4" fill="#000"/>
<path d="M64.7,325.2V331.2M63.1,325.2H66.3M63.1,331.2H66.3" stroke="#333" stroke-width="0.6" fill="none"/>
<rect x="62.7" y="326.2" width="4" height="4" fill="#000"/>
<path d="M68.1,316.2V322.2M66.5,316.2H69.7M66.5,322.2H69.7" stroke="#333" stroke-width="0.6" fill="none"/>
<rect x="66.1" y="317.2" width="4" height="4" fill="#000"/>
<path d="M75.6,303.6V309.6M74,303.6H77.2M74,309.6H77.2" stroke="#333" stroke-width="0.6" fill="none"/>
<rect x="73.6" y="304.6" width="4" height="4" fill="#000"/>
<path d="M83.2,289.7V295.7M81.6,289.7H84.8M81.6,295.7H84.8" stroke="#333" stroke-width="0.6" fill="none"/>
<rect x="81.2" y="290.7" width="4" height="4" fill="#000"/>
<path d="M91,281V287M89.4,281H92.6M89.4,287H92.6" stroke="#333" stroke-width="0.6" fill="none"/>
<rect x="89" y="282" width="4" height="4" fill="#000"/>
<path d="M98.3,276V283M96.7,276H99.9M96.7,283H99.9" stroke="#333" stroke-width="0.6" fill="none"/>
<rect x="96.3" y="277.5" width="4" height="4" fill="#000"/>
<path d="M108.6,273.1V282.1M107,273.1H110.2M107,282.1H110.2" stroke="#333" stroke-width="0.6" fill="none"/>
<rect x="106.6" y="275.6" width="4" height="4" fill="#000"/>
<path d="M119.5,266V275M117.9,266H121.1M117.9,275H121.1" stroke="#333" stroke-width="0.6" fill="none"/>
<rect x="117.5" y="268.5" width="4" height="4" fill="#000"/>
<path d="M129.9,261.8V269.8M128.3,261.8H131.5M128.3,269.8H131.5" stroke="#333" stroke-width="0.6" fill="none"/>
<rect x="127.9" y="263.8" width="4" height="4" fill="#000"/>
<path d="M139.5,259.2V266.2M137.9,259.2H141.1M137.9,266.2H141.1" stroke="#333" stroke-width="0.6" fill="none"/>
<rect x="137.5" y="260.7" width="4" height="4" fill="#000"/>
<path d="M150.1,258.3V265.3M148.5,258.3H151.7M148.5,265.3H151.7" stroke="#333" stroke-width="0.6" fill="none"/>
<rect x="148.1" y="259.8" width="4" height="4" fill="#000"/>
<path d="M165.9,255.6V261.6M164.3,255.6H167.5M164.3,261.6H167.5" stroke="#333" stroke-width="0.6" fill="none"/>
<rect x="163.9" y="256.6" width="4" height="4" fill="#000"/>
<path d="M180.9,253.9V260.9M179.3,253.9H182.5M179.3,260.9H182.5" stroke="#333" stroke-width="0.6" fill="none"/>
<rect x="178.9" y="255.4" width="4" height="4" fill="#000"/>
<path d="M201.5,254.1V262.1M199.9,254.1H203.1M199.9,262.1H203.1" stroke="#333" stroke-width="0.6" fill="none"/>
<rect x="199.5" y="256.1" width="4" height="4" fill="#000"/>
<path d="M217.3,251.4V259.4M215.7,251.4H218.9M215.7,259.4H218.9" stroke="#333" stroke-width="0.6" fill="none"/>
<rect x="215.3" y="253.4" width="4" height="4" fill="#000"/>
<path d="M238.2,248.4V257.4M236.6,248.4H239.8M236.6,257.4H239.8" stroke="#333" stroke-width="0.6" fill="none"/>
<rect x="236.2" y="250.9" width="4" height="4" fill="#000"/>
<line x1="31.8" y1="230" x2="257.4" y2="230" stroke="#666" stroke-width="1.1"/>
<line x1="257.4" y1="230" x2="257.4" y2="412.2" stroke="#555" stroke-width="1.1"/>
<line x1="31.8" y1="230" x2="31.8" y2="412.2" stroke="#666" stroke-width="1.1"/>
<line x1="31.3" y1="412.2" x2="257.9" y2="412.2" stroke="#333" stroke-width="1.1"/>
<line x1="52.2" y1="412.2" x2="52.2" y2="408.7" stroke="#333" stroke-width="0.8"/>
<text x="52.2" y="422.6" font-size="7.6" text-anchor="middle" fill="#555" stroke="#555" stroke-width="0.1" >0</text>
<line x1="93.3" y1="412.2" x2="93.3" y2="408.7" stroke="#333" stroke-width="0.8"/>
<text x="93.3" y="422.6" font-size="7.6" text-anchor="middle" fill="#555" stroke="#555" stroke-width="0.1" >100</text>
<line x1="134.4" y1="412.2" x2="134.4" y2="408.7" stroke="#333" stroke-width="0.8"/>
<text x="134.4" y="422.6" font-size="7.6" text-anchor="middle" fill="#555" stroke="#555" stroke-width="0.1" >200</text>
<line x1="175.5" y1="412.2" x2="175.5" y2="408.7" stroke="#333" stroke-width="0.8"/>
<text x="175.5" y="422.6" font-size="7.6" text-anchor="middle" fill="#555" stroke="#555" stroke-width="0.1" >300</text>
<line x1="216.6" y1="412.2" x2="216.6" y2="408.7" stroke="#333" stroke-width="0.8"/>
<text x="216.6" y="422.6" font-size="7.6" text-anchor="middle" fill="#555" stroke="#555" stroke-width="0.1" >400</text>
<line x1="257.7" y1="412.2" x2="257.7" y2="408.7" stroke="#333" stroke-width="0.8"/>
<text x="257.7" y="422.6" font-size="7.6" text-anchor="middle" fill="#555" stroke="#555" stroke-width="0.1" >500</text>
<line x1="31.8" y1="391.9" x2="35.3" y2="391.9" stroke="#666" stroke-width="0.8"/>
<text x="27.6" y="394.41" font-size="7.6" text-anchor="end" fill="#555" stroke="#555" stroke-width="0.1" >0.0</text>
<line x1="31.8" y1="359.5" x2="35.3" y2="359.5" stroke="#666" stroke-width="0.8"/>
<text x="27.6" y="362.01" font-size="7.6" text-anchor="end" fill="#555" stroke="#555" stroke-width="0.1" >0.8</text>
<line x1="31.8" y1="327.1" x2="35.3" y2="327.1" stroke="#666" stroke-width="0.8"/>
<text x="27.6" y="329.61" font-size="7.6" text-anchor="end" fill="#555" stroke="#555" stroke-width="0.1" >1.6</text>
<line x1="31.8" y1="294.7" x2="35.3" y2="294.7" stroke="#666" stroke-width="0.8"/>
<text x="27.6" y="297.21" font-size="7.6" text-anchor="end" fill="#555" stroke="#555" stroke-width="0.1" >2.4</text>
<line x1="31.8" y1="262.3" x2="35.3" y2="262.3" stroke="#666" stroke-width="0.8"/>
<text x="27.6" y="264.81" font-size="7.6" text-anchor="end" fill="#555" stroke="#555" stroke-width="0.1" >3.2</text>
<line x1="31.8" y1="229.9" x2="35.3" y2="229.9" stroke="#666" stroke-width="0.8"/>
<text x="27.6" y="232.41" font-size="7.6" text-anchor="end" fill="#555" stroke="#555" stroke-width="0.1" >4.0</text>
<text x="140.7" y="432.6" font-size="8.5" text-anchor="middle" fill="#222" stroke="#222" stroke-width="0.22" >Time (min)</text>
<text transform="translate(12.4,327.5) rotate(-90)" font-size="8.5" text-anchor="middle" fill="#222" stroke="#222" stroke-width="0.22">q<tspan font-size="5.53" dy="2.12">t</tspan><tspan dy="-2.12"> (mg/g)</tspan></text>
<text x="38.6" y="242.7" font-size="8.6" text-anchor="start" fill="#222" stroke="#222" stroke-width="0.22" >FA-BC</text>
<line x1="90.5" y1="371.5" x2="110.5" y2="371.5" stroke="#111" stroke-width="1.1"/>
<line x1="90.5" y1="382.5" x2="108.7" y2="382.5" stroke="#f00" stroke-width="1.1" stroke-dasharray="3.8,3.4"/>
<text x="113.3" y="374.64" font-size="8.5" text-anchor="start" fill="#222" stroke="#222" stroke-width="0.22" xml:space="preserve" style="white-space:pre">The pseudo-first-order kinetic models</text>
<text x="113.3" y="385.64" font-size="8.5" text-anchor="start" fill="#222" stroke="#222" stroke-width="0.22" >The pseudo-second-order kinetic models</text>
</g>
<g>
<polyline points="335.71,390 335.74,389.91 335.79,389.73 335.86,389.49 335.94,389.2 336.04,388.86 336.15,388.48 336.28,388.06 336.41,387.6 336.56,387.11 336.71,386.59 336.88,386.04 337.05,385.46 337.24,384.85 337.43,384.22 337.63,383.57 337.84,382.9 338.06,382.2 338.28,381.48 338.51,380.75 338.75,379.99 339,379.22 339.25,378.44 339.51,377.64 339.78,376.82 340.06,375.99 340.34,375.15 340.63,374.3 340.92,373.43 341.22,372.56 341.53,371.67 341.84,370.78 342.16,369.88 342.49,368.97 342.82,368.05 343.16,367.13 343.5,366.2 343.85,365.27 344.2,364.33 344.56,363.38 344.93,362.44 345.3,361.49 345.68,360.54 346.06,359.58 346.45,358.63 346.84,357.67 347.24,356.72 347.64,355.76 348.05,354.8 348.46,353.84 348.88,352.89 349.31,351.94 349.74,350.98 350.17,350.03 350.61,349.09 351.05,348.14 351.5,347.2 351.95,346.26 352.41,345.33 352.88,344.4 353.34,343.47 353.82,342.55 354.29,341.64 354.78,340.73 355.26,339.82 355.75,338.92 356.25,338.03 356.75,337.14 357.25,336.26 357.76,335.38 358.28,334.52 358.79,333.65 359.32,332.8 359.84,331.95 360.37,331.11 360.91,330.28 361.45,329.46 361.99,328.64 362.54,327.83 363.09,327.03 363.65,326.24 364.21,325.45 364.78,324.68 365.34,323.91 365.92,323.15 366.5,322.4 367.08,321.65 367.66,320.92 368.25,320.2 368.85,319.48 369.44,318.77 370.05,318.07 370.65,317.38 371.26,316.7 371.87,316.03 372.49,315.37 373.11,314.71 373.74,314.07 374.37,313.43 375,312.8 375.64,312.18 376.28,311.57 376.92,310.97 377.57,310.38 378.22,309.8 378.88,309.22 379.54,308.66 380.2,308.1 380.87,307.55 381.54,307.01 382.21,306.48 382.89,305.96 383.57,305.44 384.26,304.94 384.95,304.44 385.64,303.95 386.34,303.47 387.04,303 387.74,302.53 388.45,302.08 389.16,301.63 389.88,301.19 390.59,300.75 391.31,300.33 392.04,299.91 392.77,299.5 393.5,299.1 394.24,298.71 394.97,298.32 395.72,297.94 396.46,297.57 397.21,297.2 397.97,296.84 398.72,296.49 399.48,296.15 400.24,295.81 401.01,295.48 401.78,295.15 402.55,294.83 403.33,294.52 404.11,294.22 404.89,293.92 405.68,293.63 406.47,293.34 407.26,293.06 408.06,292.78 408.86,292.51 409.66,292.25 410.47,291.99 411.28,291.74 412.09,291.5 412.91,291.25 413.73,291.02 414.55,290.79 415.38,290.56 416.21,290.34 417.04,290.13 417.88,289.92 418.72,289.71 419.56,289.51 420.4,289.31 421.25,289.12 422.1,288.93 422.96,288.75 423.82,288.57 424.68,288.4 425.54,288.23 426.41,288.06 427.28,287.9 428.15,287.74 429.03,287.58 429.91,287.43 430.79,287.29 431.68,287.14 432.57,287 433.46,286.86 434.36,286.73 435.25,286.6 436.15,286.47 437.06,286.35 437.97,286.23 438.88,286.11 439.79,286 440.71,285.89 441.63,285.78 442.55,285.67 443.47,285.57 444.4,285.47 445.33,285.37 446.27,285.28 447.21,285.19 448.15,285.1 449.09,285.01 450.04,284.92 450.99,284.84 451.94,284.76 452.89,284.68 453.85,284.6 454.81,284.53 455.78,284.46 456.74,284.39 457.71,284.32 458.68,284.25 459.66,284.19 460.64,284.12 461.62,284.06 462.6,284 463.59,283.95 464.58,283.89 465.57,283.84 466.57,283.78 467.57,283.73 468.57,283.68 469.57,283.63 470.58,283.59 471.59,283.54 472.6,283.5 473.62,283.45 474.64,283.41 475.66,283.37 476.68,283.33 477.71,283.29 478.74,283.26 479.77,283.22 480.8,283.18 481.84,283.15 482.88,283.12 483.93,283.09 484.97,283.06 486.02,283.03 487.07,283 488.13,282.97 489.18,282.94 490.24,282.91 491.31,282.89 492.37,282.86 493.44,282.84 494.51,282.82 495.58,282.79 496.66,282.77 497.74,282.75 498.82,282.73 499.9,282.71 500.99,282.69 502.08,282.67 503.17,282.66 504.27,282.64 505.37,282.62 506.47,282.6 507.57,282.59 508.67,282.57 509.78,282.56 510.89,282.54 512.01,282.53 513.12,282.52 514.24,282.5 515.36,282.49 516.49,282.48 517.61,282.47 518.74,282.46 519.88,282.45" fill="none" stroke="#111" stroke-width="1.0" stroke-linejoin="round"/>
<polyline points="335.09,379 335.12,378.87 335.17,378.62 335.24,378.27 335.33,377.85 335.43,377.36 335.54,376.81 335.66,376.21 335.8,375.57 335.94,374.89 336.1,374.16 336.27,373.41 336.44,372.62 336.63,371.8 336.82,370.96 337.02,370.1 337.23,369.21 337.45,368.31 337.67,367.39 337.9,366.46 338.14,365.52 338.39,364.57 338.65,363.6 338.91,362.64 339.18,361.66 339.45,360.68 339.74,359.7 340.02,358.72 340.32,357.73 340.62,356.75 340.93,355.77 341.24,354.79 341.56,353.81 341.89,352.83 342.22,351.86 342.56,350.9 342.91,349.94 343.26,348.99 343.61,348.04 343.97,347.1 344.34,346.17 344.71,345.25 345.09,344.33 345.48,343.42 345.86,342.52 346.26,341.63 346.66,340.75 347.06,339.88 347.47,339.02 347.89,338.17 348.31,337.33 348.73,336.5 349.16,335.67 349.6,334.86 350.04,334.06 350.49,333.27 350.94,332.49 351.39,331.72 351.85,330.95 352.32,330.2 352.78,329.46 353.26,328.73 353.74,328.01 354.22,327.3 354.71,326.6 355.2,325.91 355.7,325.22 356.2,324.55 356.71,323.89 357.22,323.24 357.73,322.59 358.25,321.96 358.78,321.33 359.31,320.71 359.84,320.11 360.38,319.51 360.92,318.92 361.46,318.34 362.01,317.76 362.57,317.2 363.13,316.64 363.69,316.1 364.26,315.55 364.83,315.02 365.4,314.5 365.98,313.98 366.56,313.47 367.15,312.97 367.74,312.48 368.34,311.99 368.94,311.51 369.54,311.04 370.15,310.57 370.76,310.11 371.38,309.66 372,309.22 372.62,308.78 373.25,308.34 373.88,307.92 374.51,307.5 375.15,307.08 375.8,306.68 376.44,306.27 377.09,305.88 377.75,305.49 378.41,305.1 379.07,304.72 379.73,304.35 380.4,303.98 381.08,303.61 381.75,303.26 382.43,302.9 383.12,302.55 383.81,302.21 384.5,301.87 385.19,301.54 385.89,301.21 386.59,300.88 387.3,300.56 388.01,300.25 388.72,299.94 389.44,299.63 390.16,299.33 390.88,299.03 391.61,298.73 392.34,298.44 393.08,298.16 393.81,297.87 394.56,297.59 395.3,297.32 396.05,297.05 396.8,296.78 397.56,296.51 398.32,296.25 399.08,295.99 399.84,295.74 400.61,295.49 401.39,295.24 402.16,295 402.94,294.76 403.72,294.52 404.51,294.28 405.3,294.05 406.09,293.82 406.89,293.6 407.69,293.37 408.49,293.15 409.3,292.94 410.1,292.72 410.92,292.51 411.73,292.3 412.55,292.09 413.37,291.89 414.2,291.69 415.03,291.49 415.86,291.29 416.7,291.1 417.53,290.9 418.38,290.71 419.22,290.53 420.07,290.34 420.92,290.16 421.78,289.98 422.63,289.8 423.49,289.62 424.36,289.45 425.23,289.27 426.1,289.1 426.97,288.94 427.85,288.77 428.73,288.61 429.61,288.44 430.49,288.28 431.38,288.12 432.27,287.97 433.17,287.81 434.07,287.66 434.97,287.51 435.87,287.36 436.78,287.21 437.69,287.06 438.61,286.92 439.52,286.77 440.44,286.63 441.36,286.49 442.29,286.35 443.22,286.22 444.15,286.08 445.08,285.95 446.02,285.81 446.96,285.68 447.91,285.55 448.85,285.42 449.8,285.3 450.75,285.17 451.71,285.05 452.67,284.92 453.63,284.8 454.59,284.68 455.56,284.56 456.53,284.45 457.5,284.33 458.48,284.21 459.46,284.1 460.44,283.99 461.42,283.87 462.41,283.76 463.4,283.65 464.4,283.55 465.39,283.44 466.39,283.33 467.39,283.23 468.4,283.12 469.4,283.02 470.41,282.92 471.43,282.82 472.44,282.72 473.46,282.62 474.48,282.52 475.51,282.42 476.54,282.33 477.57,282.23 478.6,282.14 479.63,282.04 480.67,281.95 481.71,281.86 482.76,281.77 483.81,281.68 484.85,281.59 485.91,281.5 486.96,281.42 488.02,281.33 489.08,281.24 490.14,281.16 491.21,281.07 492.28,280.99 493.35,280.91 494.42,280.83 495.5,280.75 496.58,280.67 497.66,280.59 498.75,280.51 499.84,280.43 500.93,280.35 502.02,280.28 503.12,280.2 504.22,280.13 505.32,280.05 506.42,279.98 507.53,279.9 508.64,279.83 509.75,279.76 510.86,279.69 511.98,279.62 513.1,279.55 514.22,279.48 515.35,279.41 516.48,279.34 517.61,279.27 518.74,279.21 519.88,279.14" fill="none" stroke="#ff1a1a" stroke-width="1.25" stroke-dasharray="3.8,2.8" stroke-linejoin="round"/>
<path d="M335.7,387.5V393.5M334.1,387.5H337.3M334.1,393.5H337.3" stroke="#333" stroke-width="0.6" fill="none"/>
<rect x="333.45" y="388.25" width="4.5" height="4.5" fill="#000"/>
<rect x="336.35" y="363.35" width="4.5" height="4.5" fill="#000"/>
<path d="M340.6,354.1V358.1M339,354.1H342.2M339,358.1H342.2" stroke="#333" stroke-width="0.6" fill="none"/>
<rect x="338.35" y="353.85" width="4.5" height="4.5" fill="#000"/>
<rect x="341.35" y="340.05" width="4.5" height="4.5" fill="#000"/>
<rect x="343.55" y="338.45" width="4.5" height="4.5" fill="#000"/>
<rect x="346.95" y="332.15" width="4.5" height="4.5" fill="#000"/>
<path d="M356.7,321.3V326.3M355.1,321.3H358.3M355.1,326.3H358.3" stroke="#333" stroke-width="0.6" fill="none"/>
<rect x="354.45" y="321.55" width="4.5" height="4.5" fill="#000"/>
<path d="M364.4,309.6V316.6M362.8,309.6H366M362.8,316.6H366" stroke="#333" stroke-width="0.6" fill="none"/>
<rect x="362.15" y="310.85" width="4.5" height="4.5" fill="#000"/>
<path d="M372.3,302.2V309.2M370.7,302.2H373.9M370.7,309.2H373.9" stroke="#333" stroke-width="0.6" fill="none"/>
<rect x="370.05" y="303.45" width="4.5" height="4.5" fill="#000"/>
<path d="M379.6,298.4V305.4M378,298.4H381.2M378,305.4H381.2" stroke="#333" stroke-width="0.6" fill="none"/>
<rect x="377.35" y="299.65" width="4.5" height="4.5" fill="#000"/>
<path d="M389.8,297.3V304.3M388.2,297.3H391.4M388.2,304.3H391.4" stroke="#333" stroke-width="0.6" fill="none"/>
<rect x="387.55" y="298.55" width="4.5" height="4.5" fill="#000"/>
<path d="M400.8,291.5V298.5M399.2,291.5H402.4M399.2,298.5H402.4" stroke="#333" stroke-width="0.6" fill="none"/>
<rect x="398.55" y="292.75" width="4.5" height="4.5" fill="#000"/>
<path d="M411.3,288.8V294.8M409.7,288.8H412.9M409.7,294.8H412.9" stroke="#333" stroke-width="0.6" fill="none"/>
<rect x="409.05" y="289.55" width="4.5" height="4.5" fill="#000"/>
<path d="M420.9,286.4V291.4M419.3,286.4H422.5M419.3,291.4H422.5" stroke="#333" stroke-width="0.6" fill="none"/>
<rect x="418.65" y="286.65" width="4.5" height="4.5" fill="#000"/>
<path d="M431.4,285.2V290.2M429.8,285.2H433M429.8,290.2H433" stroke="#333" stroke-width="0.6" fill="none"/>
<rect x="429.15" y="285.45" width="4.5" height="4.5" fill="#000"/>
<path d="M447.4,283.4V287.4M445.8,283.4H449M445.8,287.4H449" stroke="#333" stroke-width="0.6" fill="none"/>
<rect x="445.15" y="283.15" width="4.5" height="4.5" fill="#000"/>
<path d="M462.2,282.8V286.8M460.6,282.8H463.8M460.6,286.8H463.8" stroke="#333" stroke-width="0.6" fill="none"/>
<rect x="459.95" y="282.55" width="4.5" height="4.5" fill="#000"/>
<path d="M482.9,281.9V288.9M481.3,281.9H484.5M481.3,288.9H484.5" stroke="#333" stroke-width="0.6" fill="none"/>
<rect x="480.65" y="283.15" width="4.5" height="4.5" fill="#000"/>
<path d="M498.9,280V286M497.3,280H500.5M497.3,286H500.5" stroke="#333" stroke-width="0.6" fill="none"/>
<rect x="496.65" y="280.75" width="4.5" height="4.5" fill="#000"/>
<path d="M519.8,277.5V284.5M518.2,277.5H521.4M518.2,284.5H521.4" stroke="#333" stroke-width="0.6" fill="none"/>
<rect x="517.55" y="278.75" width="4.5" height="4.5" fill="#000"/>
<line x1="304.7" y1="229.8" x2="530.9" y2="229.8" stroke="#777" stroke-width="1.0"/>
<line x1="530.9" y1="229.8" x2="530.9" y2="412.6" stroke="#444" stroke-width="1.0"/>
<line x1="304.7" y1="229.8" x2="304.7" y2="412.6" stroke="#2a2a2a" stroke-width="1.0"/>
<line x1="304.2" y1="412.6" x2="531.4" y2="412.6" stroke="#333" stroke-width="1.0"/>
<line x1="325" y1="412.6" x2="325" y2="409.4" stroke="#333" stroke-width="0.8"/>
<text x="325" y="423.7" font-size="8.6" text-anchor="middle" fill="#222" stroke="#222" stroke-width="0.22" >0</text>
<line x1="366.2" y1="412.6" x2="366.2" y2="409.4" stroke="#333" stroke-width="0.8"/>
<text x="366.2" y="423.7" font-size="8.6" text-anchor="middle" fill="#222" stroke="#222" stroke-width="0.22" >100</text>
<line x1="407.4" y1="412.6" x2="407.4" y2="409.4" stroke="#333" stroke-width="0.8"/>
<text x="407.4" y="423.7" font-size="8.6" text-anchor="middle" fill="#222" stroke="#222" stroke-width="0.22" >200</text>
<line x1="448.6" y1="412.6" x2="448.6" y2="409.4" stroke="#333" stroke-width="0.8"/>
<text x="448.6" y="423.7" font-size="8.6" text-anchor="middle" fill="#222" stroke="#222" stroke-width="0.22" >300</text>
<line x1="489.8" y1="412.6" x2="489.8" y2="409.4" stroke="#333" stroke-width="0.8"/>
<text x="489.8" y="423.7" font-size="8.6" text-anchor="middle" fill="#222" stroke="#222" stroke-width="0.22" >400</text>
<line x1="531" y1="412.6" x2="531" y2="409.4" stroke="#333" stroke-width="0.8"/>
<text x="531" y="423.7" font-size="8.6" text-anchor="middle" fill="#222" stroke="#222" stroke-width="0.22" >500</text>
<line x1="304.7" y1="392.4" x2="307.9" y2="392.4" stroke="#2a2a2a" stroke-width="0.8"/>
<text x="300" y="395.24" font-size="8.6" text-anchor="end" fill="#222" stroke="#222" stroke-width="0.22" >0.0</text>
<line x1="304.7" y1="359.88" x2="307.9" y2="359.88" stroke="#2a2a2a" stroke-width="0.8"/>
<text x="300" y="362.72" font-size="8.6" text-anchor="end" fill="#222" stroke="#222" stroke-width="0.22" >0.8</text>
<line x1="304.7" y1="327.36" x2="307.9" y2="327.36" stroke="#2a2a2a" stroke-width="0.8"/>
<text x="300" y="330.2" font-size="8.6" text-anchor="end" fill="#222" stroke="#222" stroke-width="0.22" >1.6</text>
<line x1="304.7" y1="294.84" x2="307.9" y2="294.84" stroke="#2a2a2a" stroke-width="0.8"/>
<text x="300" y="297.68" font-size="8.6" text-anchor="end" fill="#222" stroke="#222" stroke-width="0.22" >2.4</text>
<line x1="304.7" y1="262.32" x2="307.9" y2="262.32" stroke="#2a2a2a" stroke-width="0.8"/>
<text x="300" y="265.16" font-size="8.6" text-anchor="end" fill="#222" stroke="#222" stroke-width="0.22" >3.2</text>
<line x1="304.7" y1="229.8" x2="307.9" y2="229.8" stroke="#2a2a2a" stroke-width="0.8"/>
<text x="300" y="232.64" font-size="8.6" text-anchor="end" fill="#222" stroke="#222" stroke-width="0.22" >4.0</text>
<text x="421.5" y="433.5" font-size="8.4" text-anchor="middle" fill="#222" stroke="#222" stroke-width="0.22" >Time (min)</text>
<text transform="translate(287,327) rotate(-90)" font-size="8.4" text-anchor="middle" fill="#222" stroke="#222" stroke-width="0.22">q<tspan font-size="5.46" dy="2.1">t</tspan><tspan dy="-2.1"> (mg/g)</tspan></text>
<text x="311.6" y="243" font-size="8.4" text-anchor="start" fill="#222" stroke="#222" stroke-width="0.22" >BC</text>
<line x1="364.7" y1="365.3" x2="384.7" y2="365.3" stroke="#555" stroke-width="0.9"/>
<line x1="364.7" y1="376.2" x2="382.9" y2="376.2" stroke="#f00" stroke-width="1.1" stroke-dasharray="3.8,3.4"/>
<text x="387.2" y="368.44" font-size="8.5" text-anchor="start" fill="#222" stroke="#222" stroke-width="0.22" xml:space="preserve" style="white-space:pre">The pseudo-first-order kinetic models</text>
<text x="387.2" y="379.34" font-size="8.5" text-anchor="start" fill="#222" stroke="#222" stroke-width="0.22" >The pseudo-second-order kinetic models</text>
</g>
</svg>
</body></html>
